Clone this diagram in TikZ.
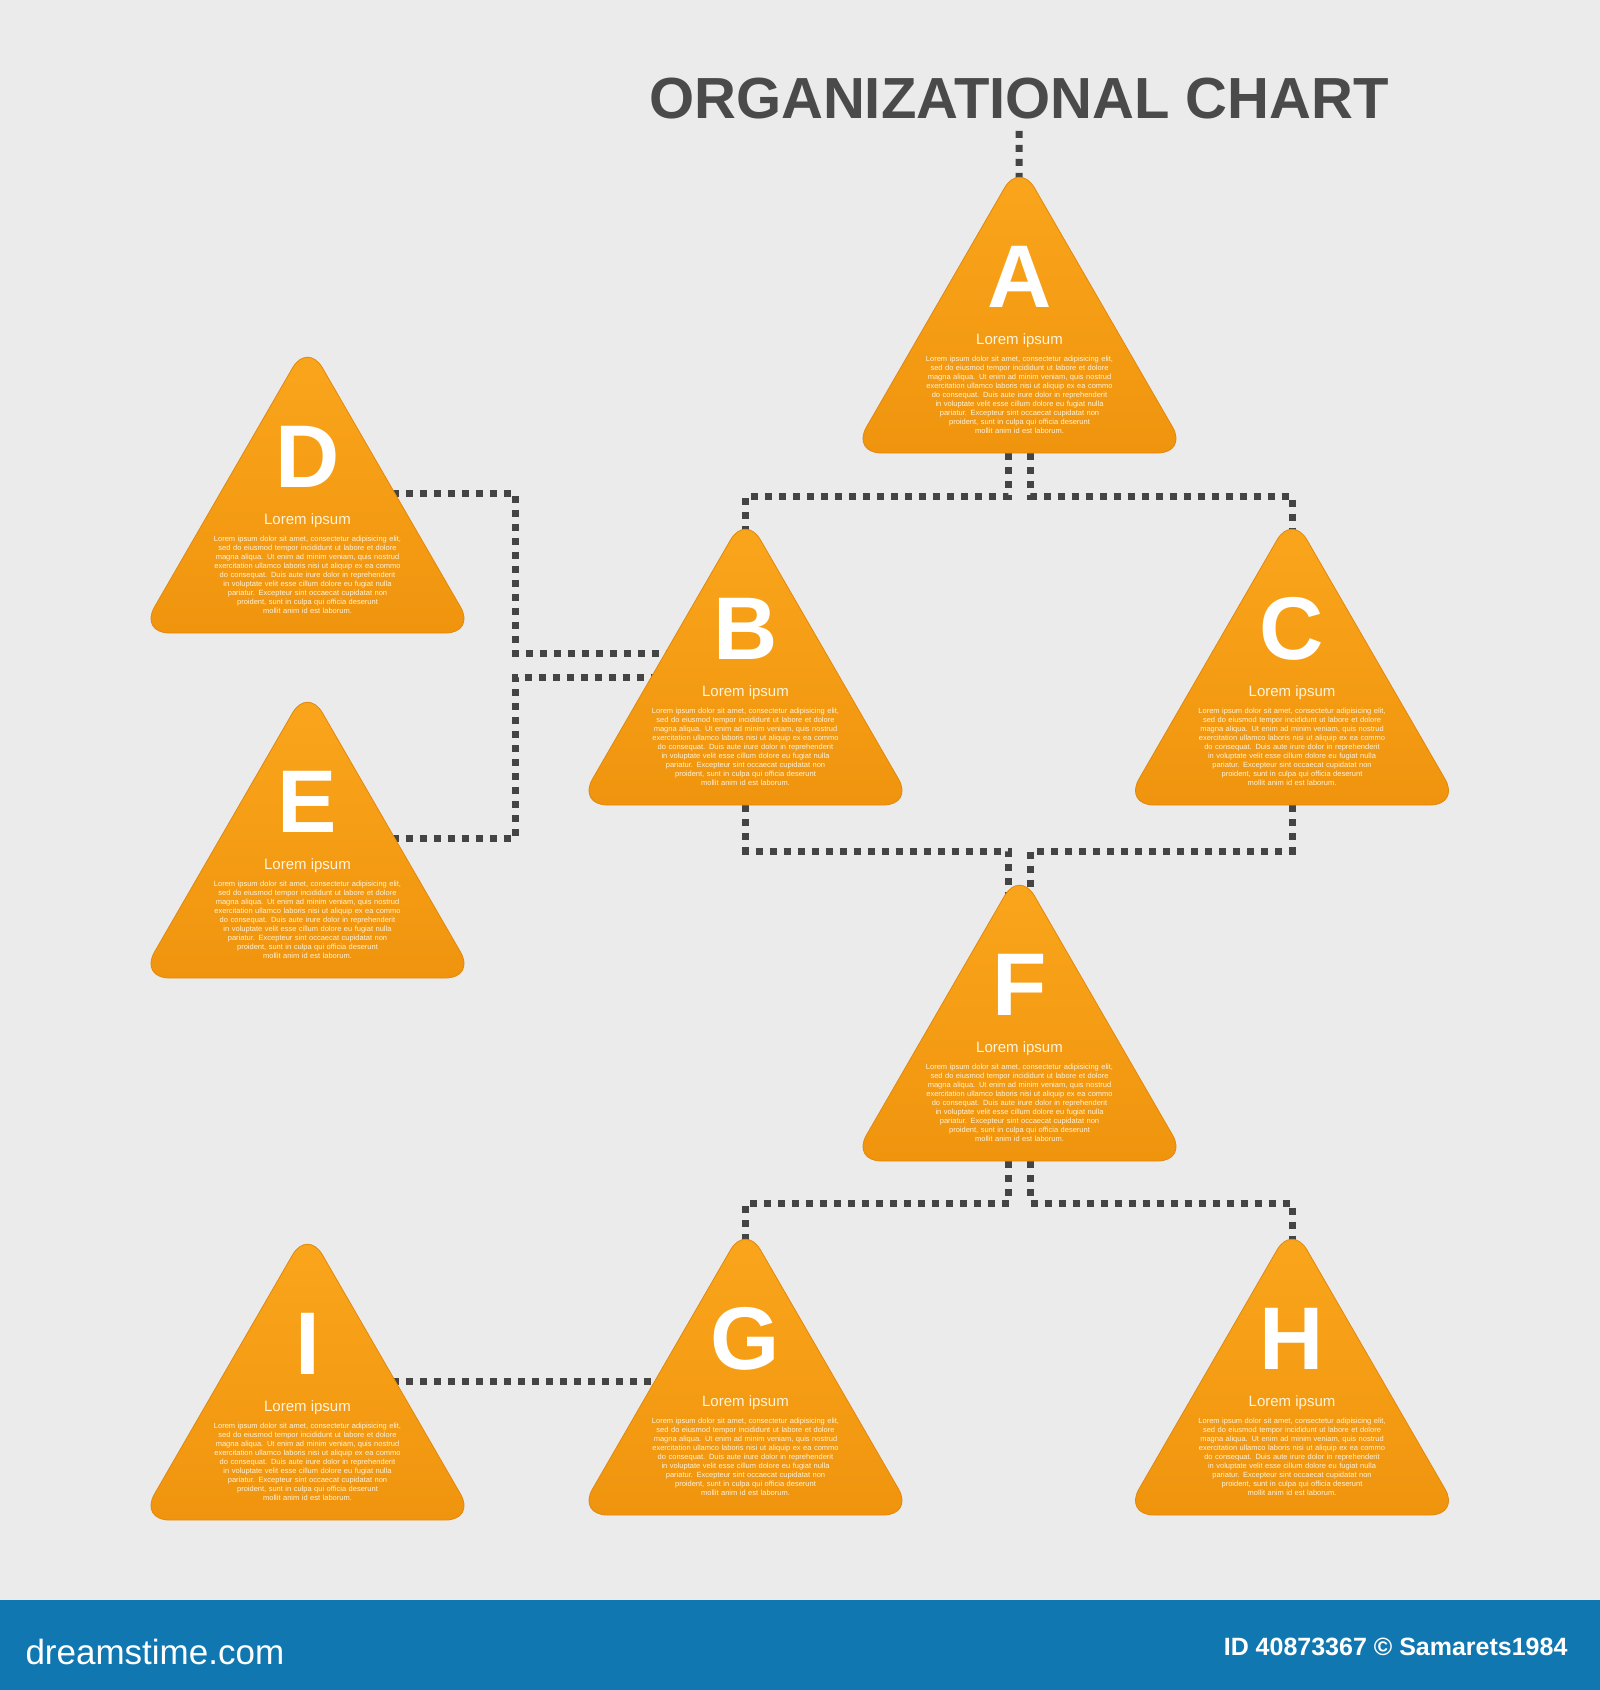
\documentclass[tikz,border=0pt]{standalone}
\usepackage{fontspec}
\setmainfont{Liberation Sans}
\usetikzlibrary{shapes.geometric}
\pgfdeclarelayer{back}
\pgfsetlayers{back,main}
\definecolor{paper}{RGB}{235,235,235}
\definecolor{trifill}{RGB}{250,166,28}
\definecolor{tridark}{RGB}{240,148,14}
\definecolor{tririm}{RGB}{226,136,12}
\definecolor{dotgray}{RGB}{68,68,68}
\definecolor{titlegray}{RGB}{74,74,74}
\definecolor{cream}{RGB}{255,244,218}
\definecolor{barblue}{RGB}{17,119,177}
\newcommand{\lorembody}{Lorem ipsum dolor sit amet, consectetur adipisicing elit,\\
sed do eiusmod tempor incididunt ut labore et dolore\\
magna aliqua. Ut enim ad minim veniam, quis nostrud\\
exercitation ullamco laboris nisi ut aliquip ex ea commo\\
do consequat. Duis aute irure dolor in reprehenderit\\
in voluptate velit esse cillum dolore eu fugiat nulla\\
pariatur. Excepteur sint occaecat cupidatat non\\
proident, sunt in culpa qui officia deserunt\\
mollit anim id est laborum.}

\begin{document}
\begin{tikzpicture}[x=1pt, y=-1pt,
  tri/.style={regular polygon, regular polygon sides=3, minimum size=388pt, inner sep=0pt, outer sep=0pt, rounded corners=30pt, top color=trifill, bottom color=tridark, draw=tririm, line width=0.8pt},
  letter/.style={anchor=base, text=white, font=\fontsize{89}{89}\selectfont\bfseries},
  heading/.style={anchor=base, text=cream, font=\fontsize{15}{18}\selectfont},
  body/.style={anchor=base, text=cream, text width=220pt, align=center, inner sep=0pt, font=\fontsize{7.5}{9.1}\selectfont},
  conn/.style={draw=dotgray, line width=7pt, dash pattern=on 7pt off 7pt}
]
\useasboundingbox (0,0) rectangle (1600,1690);

\node[anchor=base, inner sep=12pt, text=titlegray, font=\fontsize{58}{58}\selectfont\bfseries] (title) at (1019,118) {ORGANIZATIONAL CHART};

% triangles, placed by their centres
\node[tri] (A) at (1019.5,356) {};
\node[tri] (B) at (745.5,708) {};
\node[tri] (C) at (1292,708) {};
\node[tri] (D) at (307.5,536) {};
\node[tri] (E) at (307.5,881) {};
\node[tri] (F) at (1019.5,1064) {};
\node[tri] (G) at (745.5,1418) {};
\node[tri] (H) at (1292,1418) {};
\node[tri] (I) at (307.5,1423) {};

\foreach \n in {A,B,C,D,E,F,G,H,I} {
  \node[letter] (\n-let) at ([yshift=146pt]\n.south) {\n};
  \node[heading] (\n-head) at ([yshift=109pt]\n.south) {Lorem ipsum};
  \node[body] (\n-body) at ([yshift=92pt]\n.south) {\lorembody};
}

\coordinate (DEjoin) at (515,665);

% footer bar
\fill[barblue] (0,1600) rectangle (1600,1690);
\node[anchor=base west, text=white, font=\fontsize{35}{35}\selectfont] (logo) at (22,1664) {dreamstime.com};
\node[anchor=base east, text=white, font=\fontsize{25}{25}\selectfont\bfseries] (credit) at (1571,1655) {ID 40873367 © Samarets1984};

\begin{pgfonlayer}{back}
\fill[paper] (0,0) rectangle (1600,1600);
\draw[conn] (title.south) -- (A.center);
\draw[conn] ([xshift=-11pt]A.south) -- ++(0,43) -| (B.center);
\draw[conn] ([xshift=11pt]A.south) -- ++(0,43) -| (C.center);
\draw[conn] ([yshift=-5.5pt]D.side 3) -| ([yshift=12pt]DEjoin) -| (B.center);
\draw[conn] ([yshift=-5.5pt]E.side 3) -| ([yshift=-12pt]DEjoin) -| (B.center);
\draw[conn] (B.south) -- ++(0,46) -| ([xshift=-11pt]F.center);
\draw[conn] (C.south) -- ++(0,46) -| ([xshift=11pt]F.center);
\draw[conn] ([xshift=-11pt]F.south) -- ++(0,42) -| (G.center);
\draw[conn] ([xshift=11pt]F.south) -- ++(0,42) -| (H.center);
\draw[conn] ([yshift=-6.5pt]I.side 3) -| (G.center);
\end{pgfonlayer}
\end{tikzpicture}
\end{document}
